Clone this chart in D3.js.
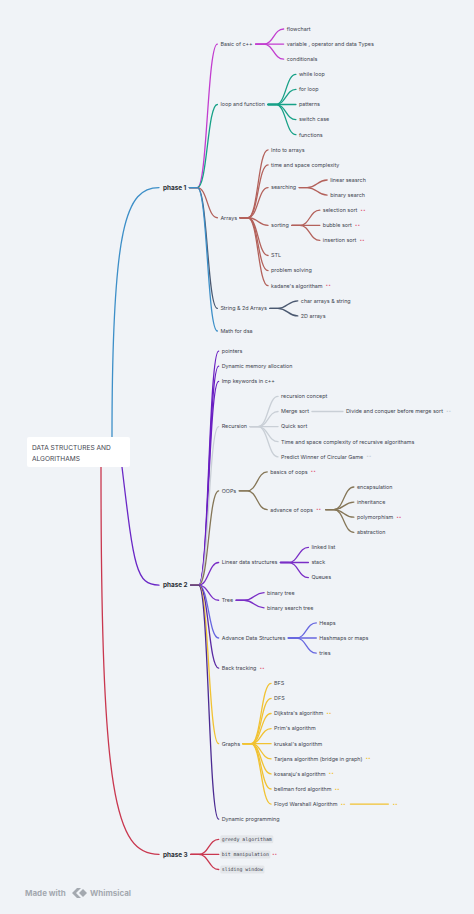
<!DOCTYPE html>
<html><head><meta charset="utf-8">
<script src="https://cdn.jsdelivr.net/npm/d3@7"></script>
<style>body{margin:0;background:#f0f3f7}svg{display:block}</style></head>
<body><svg id="c" width="474" height="914"></svg>
<script>
// "*" suffix = small emoji badge after the label
const basicsCpp = ["flowchart","variable , operator and data Types","conditionals"];
const loopFunc = ["while loop","for loop","patterns","switch case","functions"];
const searching = ["linear seasrch","binary search"];
const sorting = ["selection sort*","bubble sort*","insertion sort*"];
const stringArr = ["char arrays & string","2D arrays"];
const recursion = ["recursion concept","Merge sort","Quick sort","Time and space complexity of recursive algorithams","Predict Winner of Circular Game*"];
const mergeChild = ["Divide and conquer before merge sort*"];
const advOops = ["encapsulation","inheritance","polymorphism*","abstraction"];
const linearDS = ["linked list","stack","Queues"];
const treeDS = ["binary tree","binary search tree"];
const advDS = ["Heaps","Hashmaps or maps","tries"];
const graphs = ["BFS","DFS","Dijkstra's algorithm*","Prim's algorithm","kruskal's algorithm","Tarjans algorithm (bridge in graph)*","kosaraju's algorithm*","bellman ford algorithm*","Floyd Warshall Algorithm*"];
const phase3 = ["greedy algoritham","bit manipulation*","sliding window"];
const rootLines = ["DATA STRUCTURES AND","ALGORITHAMS"];

const L = a => a.map(n => ({n}));
const data = {n:"ROOT", c:[
 {n:"phase 1", col:"#3d8fc8", c:[
  {n:"Basic of c++", col:"#c23ccf", c:L(basicsCpp)},
  {n:"loop and function", col:"#17a187", c:L(loopFunc)},
  {n:"Arrays", col:"#b3615b", c:[{n:"Into to arrays"},{n:"time and space complexity"},
     {n:"searching", c:L(searching)},{n:"sorting", c:L(sorting)},
     {n:"STL"},{n:"problem solving"},{n:"kadane's algoritham*"}]},
  {n:"String & 2d Arrays", col:"#4a5870", c:L(stringArr)},
  {n:"Math for dsa", col:"#3d8fc8"}]},
 {n:"phase 2", col:"#6a27c6", c:[
  {n:"pointers", col:"#6a1fc2"},{n:"Dynamic memory allocation", col:"#6a1fc2"},{n:"Imp keywords in c++", col:"#6a1fc2"},
  {n:"Recursion", col:"#c9cfd6", c:recursion.map(r => r==="Merge sort" ? {n:r, c:L(mergeChild)} : {n:r})},
  {n:"OOPs", col:"#857657", c:[{n:"basics of oops*"},{n:"advance of oops*", c:L(advOops)}]},
  {n:"Linear data structures", col:"#7a2ec6", c:L(linearDS)},
  {n:"Tree", col:"#7a2ec6", c:L(treeDS)},
  {n:"Advance Data Structures", col:"#6767e0", c:L(advDS)},
  {n:"Back tracking*", col:"#5b2aa3"},
  {n:"Graphs", col:"#f1c232", c:graphs.map(g => g.startsWith("Floyd") ? {n:g, c:[{n:"*"}]} : {n:g})},
  {n:"Dynamic programming", col:"#4b2a92"}]},
 {n:"phase 3", col:"#c9374f", monoKids:true, c:L(phase3)}
]};

const svg = d3.select("#c");
const root = d3.hierarchy(data, d => d.c);
root.each(d => { if (!d.data.col && d.parent) d.data.col = d.parent.data.col; if(d.parent && d.parent.data.monoKids) d.data.mono=true; });
let row = 0;
const yScale = d3.scaleLinear().domain([0, 1]).range([29, 44.1]);
root.children.forEach((ph, pi) => {
  ph.leaves().forEach(l => { l.y = yScale(row) + 5 * pi; row++; });
});
root.eachAfter(d => { if (d.children && d.depth > 0) d.y = (d.children[0].y + d.children[d.children.length-1].y) / 2; });
root.y = 452;

const gLinks = svg.append("g").attr("fill","none").attr("stroke-width",1.3).attr("stroke-linecap","round");
const gText = svg.append("g");
const GAP = 34;

root.each(d => {
  if (d.depth === 0) return;
  if (d.depth === 1) d.x = 163;
  else d.x = d.parent.end + GAP + (d.parent.data.n === "Merge sort" ? 3 : 0) + (d.parent.data.n==="Floyd Warshall Algorithm*" ? 10 : 0);
  const badge = d.data.n.endsWith("*");
  const label = badge ? d.data.n.slice(0, -1) : d.data.n;
  let w = 0;
  if (label) {
    const t = gText.append("text").attr("x", d.x).attr("y", d.y).attr("dy","0.35em")
      .attr("font-family", d.data.mono ? "DejaVu Sans Mono" : "Inter, sans-serif")
      .attr("font-size", d.depth === 1 ? 6.4 : (d.data.mono ? 4.9 : 5.4))
      .attr("font-weight", d.depth === 1 ? 700 : 400)
      .attr("fill", d.depth === 1 ? "#2b2f36" : "#3f4550").text(label);
    w = t.node().getComputedTextLength();
    if (d.data.mono) {
      gText.insert("rect","text").attr("x", d.x-1.5).attr("y", d.y-4).attr("width", w+3).attr("height", 8)
        .attr("rx",1.5).attr("fill","#e3e6ea");
    }
  }
  if (badge) {
    gText.append("text").attr("x", d.x + w + (label ? 3 : 1)).attr("y", d.y).attr("dy","0.35em")
      .attr("font-family","DejaVu Sans").attr("font-size",4.5)
      .attr("fill", d.data.col==="#c9cfd6" ? "#c9cfd6" : (d.data.col==="#f1c232" ? "#f1c232" : "#e0607a"))
      .text("••");
    w += (label ? 3 : 1) + 7;
  }
  d.end = d.x + w;
});

root.descendants().forEach(d => {
  if (!d.parent) return;
  const p = d.parent, col = d.data.col;
  let path;
  if (p.depth === 0) {
    const sx = d.data.n === "phase 1" ? 112 : d.data.n === "phase 2" ? 122 : 101;
    const sy = d.data.n === "phase 1" ? 437 : 467;
    path = `M${sx},${sy} C${sx + (d.data.n==="phase 2"?12:0)},${(sy + d.y) / 2 + (d.y - sy) * 0.35} ${sx + 14},${d.y} ${d.x - 4},${d.y}`;
  } else {
    const x0 = p.end + 3, xm = x0 + 8, x1 = d.x - 3;
    const c = (xm + x1) / 2;
    path = `M${x0},${p.y} L${xm},${p.y} C${c},${p.y} ${c},${d.y} ${x1},${d.y}`;
  }
  gLinks.append("path").attr("d", path).attr("stroke", col);
});

svg.append("rect").attr("x",27).attr("y",437).attr("width",103).attr("height",30).attr("rx",2).attr("fill","#fff");
svg.append("text").attr("font-family","Inter, sans-serif").attr("font-size",6.6).attr("fill","#3f4550")
  .selectAll("tspan").data(rootLines).join("tspan").attr("x",32).attr("y",(d,i)=>450+i*11).text(d=>d);

const f = svg.append("g").attr("transform","translate(25,896)");
f.append("text").attr("font-family","Inter, sans-serif").attr("font-weight",700).attr("font-size",8).attr("fill","#a4a9b0").text("Made with");
f.append("path").attr("d","M47,-3 l5,-5 h4 l-5,5 l5,5 h-4 z M54,-3 l4,-4 l4,4 l-4,4 z").attr("fill","#a4a9b0");
f.append("text").attr("x",65).attr("font-family","Inter, sans-serif").attr("font-weight",700).attr("font-size",8).attr("fill","#a4a9b0").text("Whimsical");
</script></body></html>
